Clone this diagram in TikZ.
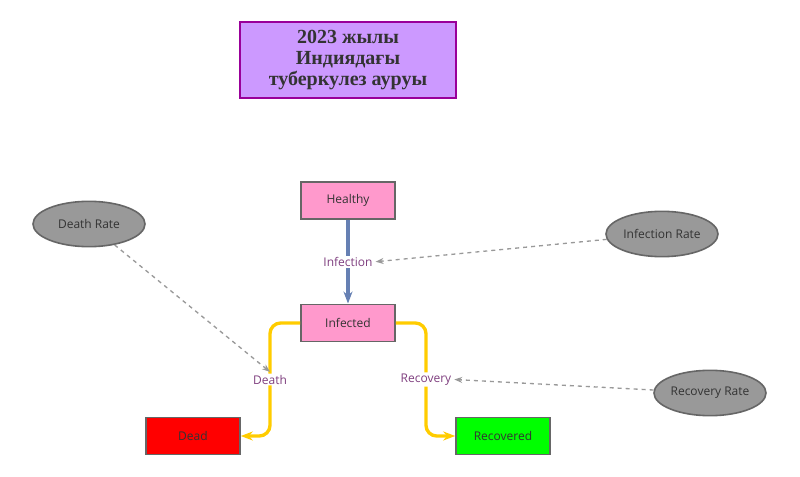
\documentclass[tikz,border=0pt]{standalone}
\usepackage{fontspec}
\setmainfont{Liberation Serif}
\newfontfamily\lbl{Open Sans}
\usetikzlibrary{arrows.meta,shapes.geometric}
\definecolor{tbox}{HTML}{CC99FF}
\definecolor{tbord}{HTML}{990099}
\definecolor{pinkf}{HTML}{FF99CC}
\definecolor{grayf}{HTML}{999999}
\definecolor{bord}{HTML}{666666}
\definecolor{flowb}{HTML}{6680B3}
\definecolor{flowy}{HTML}{FFCC00}
\definecolor{lblc}{HTML}{7F3F7F}
\tikzset{
 box/.style={draw=bord,line width=1.2pt,minimum width=70.5pt,minimum height=28pt,inner sep=0pt,font=\lbl\small,text=black!80},
 rate/.style={ellipse,draw=bord,line width=1.2pt,fill=grayf,minimum width=84pt,minimum height=34pt,inner sep=0pt,font=\lbl\small,text=black!80},
 lab/.style={font=\lbl\small,text=lblc,fill=white,inner sep=1pt},
 dashlink/.style={draw=grayf,dashed,line width=1pt,-{Stealth[length=6pt]}},
}
\begin{document}
\begin{tikzpicture}[x=0.75pt,y=-0.75pt]
\useasboundingbox (0,0) rectangle (800,477);
\node[draw=tbord,line width=1.2pt,fill=tbox,minimum width=162pt,minimum height=57pt,align=center,font=\bfseries\fontsize{15}{15.5}\selectfont,text=black!80] (title) at (348,60) {2023 жылы\\Индиядағы\\туберкулез ауруы};
\node[box,fill=pinkf] (healthy) at (348,200.5) {Healthy};
\node[box,fill=pinkf] (infected) at (348,323) {Infected};
\node[box,fill=red] (dead) at (193,436) {Dead};
\node[box,fill=green] (rec) at (503,436) {Recovered};
\node[rate] (dr) at (89,224) {Death Rate};
\node[rate] (ir) at (662,234) {Infection Rate};
\node[rate] (rr) at (710,393) {Recovery Rate};
\draw[flowb,line width=2.5pt,-{Stealth[length=9pt]}] (healthy) -- node[lab,pos=0.5] (linf) {Infection} (infected);
\draw[flowy,line width=2.5pt,rounded corners=8pt,-{Stealth[length=9pt]}] (infected.west) -| (270,436) node[lab,pos=0.75] (ldeath) {Death} -- (dead.east);
\draw[flowy,line width=2.5pt,rounded corners=8pt,-{Stealth[length=9pt]}] (infected.east) -| (426,436) node[lab,pos=0.75] (lrec) {Recovery} -- (rec.west);
\draw[dashlink] (dr) -- (ldeath.north);
\draw[dashlink] (ir) -- (linf.east);
\draw[dashlink] (rr) -- (lrec.east);
\end{tikzpicture}
\end{document}
